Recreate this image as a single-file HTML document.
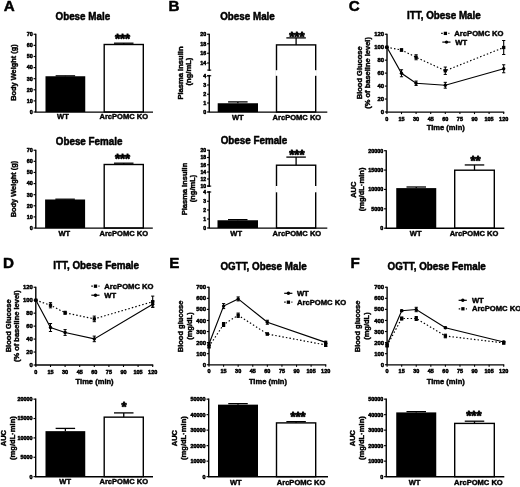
<!DOCTYPE html>
<html><head><meta charset="utf-8"><title>Figure</title>
<style>
html,body{margin:0;padding:0;background:#fff;}
body{width:520px;height:487px;overflow:hidden;}
svg{display:block;filter:blur(0.3px);font-family:"Liberation Sans",Arial,sans-serif;font-weight:bold;fill:#000;}
text{stroke:#000;stroke-width:0.42px;stroke-linejoin:round;}
</style></head><body>
<svg width="520" height="487" viewBox="0 0 520 487">
<rect x="0" y="0" width="520" height="487" fill="#fff"/>
<g transform="translate(0 0)">
<text x="3.7" y="11.1" font-size="15.2" text-anchor="start" style="stroke-width:0.5px">A</text>
<text x="168.6" y="10.9" font-size="15.2" text-anchor="start" style="stroke-width:0.5px">B</text>
<text x="348.7" y="11.0" font-size="15.2" text-anchor="start" style="stroke-width:0.5px">C</text>
<text x="3.1" y="268.2" font-size="15.2" text-anchor="start" style="stroke-width:0.5px">D</text>
<text x="169.3" y="268.3" font-size="15.2" text-anchor="start" style="stroke-width:0.5px">E</text>
<text x="350.6" y="268.3" font-size="15.2" text-anchor="start" style="stroke-width:0.5px">F</text>
<text transform="translate(82.8 19.6) scale(0.937 1)" font-size="10.5" text-anchor="middle" style="stroke-width:0.5px">Obese Male</text>
<line x1="65.375" y1="75.85" x2="65.375" y2="76.25" stroke="#000" stroke-width="1.3"/>
<line x1="55.625" y1="75.85" x2="75.125" y2="75.85" stroke="#000" stroke-width="1.3"/>
<rect x="45.5" y="76.25" width="39.75" height="35.75" fill="#000"/>
<line x1="123.75" y1="43.2" x2="123.75" y2="45.0" stroke="#000" stroke-width="1.3"/>
<line x1="114.0" y1="43.2" x2="133.5" y2="43.2" stroke="#000" stroke-width="1.3"/>
<rect x="104.2" y="44.5" width="39.1" height="67.5" fill="#fff" stroke="#000" stroke-width="1.4"/>
<text x="122.5" y="43.45" font-size="13" text-anchor="middle" style="stroke-width:0.85px">***</text>
<line x1="35.199999999999996" y1="112.1" x2="153" y2="112.1" stroke="#000" stroke-width="1.4"/>
<line x1="35.8" y1="33.7" x2="35.8" y2="112" stroke="#000" stroke-width="1.4"/>
<line x1="33.599999999999994" y1="112.0" x2="35.8" y2="112.0" stroke="#000" stroke-width="1.15"/>
<text x="32.699999999999996" y="113.89" font-size="5.4" text-anchor="end" style="stroke-width:0.5px">0</text>
<line x1="33.599999999999994" y1="100.89285714285714" x2="35.8" y2="100.89285714285714" stroke="#000" stroke-width="1.15"/>
<text x="32.699999999999996" y="102.78285714285714" font-size="5.4" text-anchor="end" style="stroke-width:0.5px">10</text>
<line x1="33.599999999999994" y1="89.78571428571428" x2="35.8" y2="89.78571428571428" stroke="#000" stroke-width="1.15"/>
<text x="32.699999999999996" y="91.67571428571428" font-size="5.4" text-anchor="end" style="stroke-width:0.5px">20</text>
<line x1="33.599999999999994" y1="78.67857142857143" x2="35.8" y2="78.67857142857143" stroke="#000" stroke-width="1.15"/>
<text x="32.699999999999996" y="80.56857142857143" font-size="5.4" text-anchor="end" style="stroke-width:0.5px">30</text>
<line x1="33.599999999999994" y1="67.57142857142857" x2="35.8" y2="67.57142857142857" stroke="#000" stroke-width="1.15"/>
<text x="32.699999999999996" y="69.46142857142857" font-size="5.4" text-anchor="end" style="stroke-width:0.5px">40</text>
<line x1="33.599999999999994" y1="56.464285714285715" x2="35.8" y2="56.464285714285715" stroke="#000" stroke-width="1.15"/>
<text x="32.699999999999996" y="58.354285714285716" font-size="5.4" text-anchor="end" style="stroke-width:0.5px">50</text>
<line x1="33.599999999999994" y1="45.35714285714286" x2="35.8" y2="45.35714285714286" stroke="#000" stroke-width="1.15"/>
<text x="32.699999999999996" y="47.24714285714286" font-size="5.4" text-anchor="end" style="stroke-width:0.5px">60</text>
<line x1="33.599999999999994" y1="34.25" x2="35.8" y2="34.25" stroke="#000" stroke-width="1.15"/>
<text x="32.699999999999996" y="36.14" font-size="5.4" text-anchor="end" style="stroke-width:0.5px">70</text>
<text x="62.9" y="119.3" font-size="7.55" text-anchor="middle">WT</text>
<text x="123.8" y="119.3" font-size="7.55" text-anchor="middle">ArcPOMC KO</text>
<text x="16.1" y="72.6" font-size="7.4" text-anchor="middle" transform="rotate(-90 16.1 72.6)">Body Weight (g)</text>
<text transform="translate(89.1 144.8) scale(0.937 1)" font-size="10.5" text-anchor="middle" style="stroke-width:0.5px">Obese Female</text>
<line x1="65.1" y1="199.2" x2="65.1" y2="199.5" stroke="#000" stroke-width="1.3"/>
<line x1="55.349999999999994" y1="199.2" x2="74.85" y2="199.2" stroke="#000" stroke-width="1.3"/>
<rect x="45.1" y="199.5" width="39.99999999999999" height="28.5" fill="#000"/>
<line x1="123.75" y1="163.2" x2="123.75" y2="165.0" stroke="#000" stroke-width="1.3"/>
<line x1="114.0" y1="163.2" x2="133.5" y2="163.2" stroke="#000" stroke-width="1.3"/>
<rect x="104.2" y="164.5" width="39.1" height="63.5" fill="#fff" stroke="#000" stroke-width="1.4"/>
<text x="122.5" y="163.2" font-size="13" text-anchor="middle" style="stroke-width:0.85px">***</text>
<line x1="35.199999999999996" y1="228.1" x2="152.8" y2="228.1" stroke="#000" stroke-width="1.4"/>
<line x1="35.8" y1="149.7" x2="35.8" y2="228" stroke="#000" stroke-width="1.4"/>
<line x1="33.599999999999994" y1="228.0" x2="35.8" y2="228.0" stroke="#000" stroke-width="1.15"/>
<text x="32.699999999999996" y="229.89" font-size="5.4" text-anchor="end" style="stroke-width:0.5px">0</text>
<line x1="33.599999999999994" y1="216.89285714285714" x2="35.8" y2="216.89285714285714" stroke="#000" stroke-width="1.15"/>
<text x="32.699999999999996" y="218.78285714285713" font-size="5.4" text-anchor="end" style="stroke-width:0.5px">10</text>
<line x1="33.599999999999994" y1="205.78571428571428" x2="35.8" y2="205.78571428571428" stroke="#000" stroke-width="1.15"/>
<text x="32.699999999999996" y="207.67571428571426" font-size="5.4" text-anchor="end" style="stroke-width:0.5px">20</text>
<line x1="33.599999999999994" y1="194.67857142857144" x2="35.8" y2="194.67857142857144" stroke="#000" stroke-width="1.15"/>
<text x="32.699999999999996" y="196.56857142857143" font-size="5.4" text-anchor="end" style="stroke-width:0.5px">30</text>
<line x1="33.599999999999994" y1="183.57142857142856" x2="35.8" y2="183.57142857142856" stroke="#000" stroke-width="1.15"/>
<text x="32.699999999999996" y="185.46142857142854" font-size="5.4" text-anchor="end" style="stroke-width:0.5px">40</text>
<line x1="33.599999999999994" y1="172.46428571428572" x2="35.8" y2="172.46428571428572" stroke="#000" stroke-width="1.15"/>
<text x="32.699999999999996" y="174.3542857142857" font-size="5.4" text-anchor="end" style="stroke-width:0.5px">50</text>
<line x1="33.599999999999994" y1="161.35714285714286" x2="35.8" y2="161.35714285714286" stroke="#000" stroke-width="1.15"/>
<text x="32.699999999999996" y="163.24714285714285" font-size="5.4" text-anchor="end" style="stroke-width:0.5px">60</text>
<line x1="33.599999999999994" y1="150.25" x2="35.8" y2="150.25" stroke="#000" stroke-width="1.15"/>
<text x="32.699999999999996" y="152.14" font-size="5.4" text-anchor="end" style="stroke-width:0.5px">70</text>
<text x="64.3" y="235.6" font-size="7.55" text-anchor="middle">WT</text>
<text x="123.8" y="235.6" font-size="7.55" text-anchor="middle">ArcPOMC KO</text>
<text x="16.1" y="189" font-size="7.4" text-anchor="middle" transform="rotate(-90 16.1 189)">Body Weight (g)</text>
<text transform="translate(247.5 19.6) scale(0.937 1)" font-size="10.5" text-anchor="middle" style="stroke-width:0.5px">Obese Male</text>
<line x1="237.85" y1="101.9" x2="237.85" y2="103.25" stroke="#000" stroke-width="1.3"/>
<line x1="228.1" y1="101.9" x2="247.6" y2="101.9" stroke="#000" stroke-width="1.3"/>
<rect x="217.7" y="103.25" width="40.30000000000001" height="8.75" fill="#000"/>
<line x1="296.1" y1="37.9" x2="296.1" y2="45.4" stroke="#000" stroke-width="1.3"/>
<line x1="286.35" y1="37.9" x2="305.85" y2="37.9" stroke="#000" stroke-width="1.3"/>
<rect x="276.5" y="44.9" width="39.19999999999997" height="67.1" fill="#fff" stroke="#000" stroke-width="1.4"/>
<rect x="275.3" y="70.2" width="41.599999999999966" height="5.599999999999994" fill="#fff"/>
<text x="296.9" y="40.550000000000004" font-size="13" text-anchor="middle" style="stroke-width:0.85px">***</text>
<line x1="208.65" y1="112.1" x2="327.3" y2="112.1" stroke="#000" stroke-width="1.4"/>
<line x1="209.25" y1="33.7" x2="209.25" y2="112" stroke="#000" stroke-width="1.4"/>
<line x1="207.05" y1="112" x2="209.25" y2="112" stroke="#000" stroke-width="1.15"/>
<text x="206.15" y="113.89" font-size="5.4" text-anchor="end" style="stroke-width:0.5px">0</text>
<line x1="207.05" y1="103" x2="209.25" y2="103" stroke="#000" stroke-width="1.15"/>
<text x="206.15" y="104.89" font-size="5.4" text-anchor="end" style="stroke-width:0.5px">1</text>
<line x1="207.05" y1="94.25" x2="209.25" y2="94.25" stroke="#000" stroke-width="1.15"/>
<text x="206.15" y="96.14" font-size="5.4" text-anchor="end" style="stroke-width:0.5px">2</text>
<line x1="207.05" y1="85" x2="209.25" y2="85" stroke="#000" stroke-width="1.15"/>
<text x="206.15" y="86.89" font-size="5.4" text-anchor="end" style="stroke-width:0.5px">3</text>
<line x1="207.05" y1="75.75" x2="209.25" y2="75.75" stroke="#000" stroke-width="1.15"/>
<text x="206.15" y="77.64" font-size="5.4" text-anchor="end" style="stroke-width:0.5px">4</text>
<line x1="207.05" y1="63" x2="209.25" y2="63" stroke="#000" stroke-width="1.15"/>
<text x="206.15" y="64.89" font-size="5.4" text-anchor="end" style="stroke-width:0.5px">14</text>
<line x1="207.05" y1="53.25" x2="209.25" y2="53.25" stroke="#000" stroke-width="1.15"/>
<text x="206.15" y="55.14" font-size="5.4" text-anchor="end" style="stroke-width:0.5px">16</text>
<line x1="207.05" y1="43.75" x2="209.25" y2="43.75" stroke="#000" stroke-width="1.15"/>
<text x="206.15" y="45.64" font-size="5.4" text-anchor="end" style="stroke-width:0.5px">18</text>
<line x1="207.05" y1="34.25" x2="209.25" y2="34.25" stroke="#000" stroke-width="1.15"/>
<text x="206.15" y="36.14" font-size="5.4" text-anchor="end" style="stroke-width:0.5px">20</text>
<text x="237.8" y="119.6" font-size="7.55" text-anchor="middle">WT</text>
<text x="296.9" y="119.6" font-size="7.55" text-anchor="middle">ArcPOMC KO</text>
<rect x="207" y="70.9" width="5" height="4.0" fill="#fff"/>
<line x1="207.3" y1="70.1" x2="211.2" y2="70.1" stroke="#000" stroke-width="1.1"/>
<line x1="207.3" y1="75.75" x2="211.2" y2="75.75" stroke="#000" stroke-width="1.1"/>
<text x="182.6" y="73" font-size="7.6" text-anchor="middle" transform="rotate(-90 182.6 73)">Plasma Insulin</text>
<text x="190.9" y="71.6" font-size="7.6" text-anchor="middle" transform="rotate(-90 190.9 71.6)">(ng/mL)</text>
<text transform="translate(254.0 144.2) scale(0.937 1)" font-size="10.5" text-anchor="middle" style="stroke-width:0.5px">Obese Female</text>
<line x1="237.75" y1="219.65" x2="237.75" y2="220.25" stroke="#000" stroke-width="1.3"/>
<line x1="228.0" y1="219.65" x2="247.5" y2="219.65" stroke="#000" stroke-width="1.3"/>
<rect x="217.5" y="220.25" width="40.5" height="7.75" fill="#000"/>
<line x1="296.1" y1="157.1" x2="296.1" y2="165.7" stroke="#000" stroke-width="1.3"/>
<line x1="286.35" y1="157.1" x2="305.85" y2="157.1" stroke="#000" stroke-width="1.3"/>
<rect x="276.5" y="165.2" width="39.19999999999997" height="62.80000000000001" fill="#fff" stroke="#000" stroke-width="1.4"/>
<rect x="275.3" y="186.0" width="41.599999999999966" height="6.300000000000011" fill="#fff"/>
<text x="296.9" y="158.9" font-size="13" text-anchor="middle" style="stroke-width:0.85px">***</text>
<line x1="208.65" y1="228.1" x2="327.3" y2="228.1" stroke="#000" stroke-width="1.4"/>
<line x1="209.25" y1="149.7" x2="209.25" y2="228" stroke="#000" stroke-width="1.4"/>
<line x1="207.05" y1="228" x2="209.25" y2="228" stroke="#000" stroke-width="1.15"/>
<text x="206.15" y="229.785" font-size="5.1" text-anchor="end" style="stroke-width:0.5px">0</text>
<line x1="207.05" y1="219" x2="209.25" y2="219" stroke="#000" stroke-width="1.15"/>
<text x="206.15" y="220.785" font-size="5.1" text-anchor="end" style="stroke-width:0.5px">1</text>
<line x1="207.05" y1="210" x2="209.25" y2="210" stroke="#000" stroke-width="1.15"/>
<text x="206.15" y="211.785" font-size="5.1" text-anchor="end" style="stroke-width:0.5px">2</text>
<line x1="207.05" y1="201.25" x2="209.25" y2="201.25" stroke="#000" stroke-width="1.15"/>
<text x="206.15" y="203.035" font-size="5.1" text-anchor="end" style="stroke-width:0.5px">3</text>
<line x1="207.05" y1="192" x2="209.25" y2="192" stroke="#000" stroke-width="1.15"/>
<text x="206.15" y="193.785" font-size="5.1" text-anchor="end" style="stroke-width:0.5px">4</text>
<line x1="207.05" y1="186" x2="209.25" y2="186" stroke="#000" stroke-width="1.15"/>
<text x="206.15" y="187.785" font-size="5.1" text-anchor="end" style="stroke-width:0.5px">10</text>
<line x1="207.05" y1="179" x2="209.25" y2="179" stroke="#000" stroke-width="1.15"/>
<text x="206.15" y="180.785" font-size="5.1" text-anchor="end" style="stroke-width:0.5px">12</text>
<line x1="207.05" y1="172" x2="209.25" y2="172" stroke="#000" stroke-width="1.15"/>
<text x="206.15" y="173.785" font-size="5.1" text-anchor="end" style="stroke-width:0.5px">14</text>
<line x1="207.05" y1="164.75" x2="209.25" y2="164.75" stroke="#000" stroke-width="1.15"/>
<text x="206.15" y="166.535" font-size="5.1" text-anchor="end" style="stroke-width:0.5px">16</text>
<line x1="207.05" y1="157.5" x2="209.25" y2="157.5" stroke="#000" stroke-width="1.15"/>
<text x="206.15" y="159.285" font-size="5.1" text-anchor="end" style="stroke-width:0.5px">18</text>
<line x1="207.05" y1="150.25" x2="209.25" y2="150.25" stroke="#000" stroke-width="1.15"/>
<text x="206.15" y="152.035" font-size="5.1" text-anchor="end" style="stroke-width:0.5px">20</text>
<text x="236.2" y="235.8" font-size="7.55" text-anchor="middle">WT</text>
<text x="296.9" y="235.8" font-size="7.55" text-anchor="middle">ArcPOMC KO</text>
<rect x="207" y="187.0" width="5" height="4.1" fill="#fff"/>
<line x1="207.3" y1="186.1" x2="211.2" y2="186.1" stroke="#000" stroke-width="1.1"/>
<line x1="207.3" y1="192" x2="211.2" y2="192" stroke="#000" stroke-width="1.1"/>
<text x="187.2" y="189" font-size="7.5" text-anchor="middle" transform="rotate(-90 187.2 189)">Plasma Insulin</text>
<text x="194.9" y="188.5" font-size="7.5" text-anchor="middle" transform="rotate(-90 194.9 188.5)">(ng/mL)</text>
<line x1="386.4" y1="112.1" x2="504.25" y2="112.1" stroke="#000" stroke-width="1.3"/>
<line x1="387.0" y1="33.7" x2="387.0" y2="112" stroke="#000" stroke-width="1.4"/>
<line x1="384.8" y1="112.0" x2="387.0" y2="112.0" stroke="#000" stroke-width="1.15"/>
<text x="383.90000000000003" y="114.0475" font-size="5.85" text-anchor="end" style="stroke-width:0.5px">0</text>
<line x1="384.8" y1="99.04166666666667" x2="387.0" y2="99.04166666666667" stroke="#000" stroke-width="1.15"/>
<text x="383.90000000000003" y="101.08916666666667" font-size="5.85" text-anchor="end" style="stroke-width:0.5px">20</text>
<line x1="384.8" y1="86.08333333333333" x2="387.0" y2="86.08333333333333" stroke="#000" stroke-width="1.15"/>
<text x="383.90000000000003" y="88.13083333333333" font-size="5.85" text-anchor="end" style="stroke-width:0.5px">40</text>
<line x1="384.8" y1="73.125" x2="387.0" y2="73.125" stroke="#000" stroke-width="1.15"/>
<text x="383.90000000000003" y="75.1725" font-size="5.85" text-anchor="end" style="stroke-width:0.5px">60</text>
<line x1="384.8" y1="60.166666666666664" x2="387.0" y2="60.166666666666664" stroke="#000" stroke-width="1.15"/>
<text x="383.90000000000003" y="62.214166666666664" font-size="5.85" text-anchor="end" style="stroke-width:0.5px">80</text>
<line x1="384.8" y1="47.20833333333333" x2="387.0" y2="47.20833333333333" stroke="#000" stroke-width="1.15"/>
<text x="383.90000000000003" y="49.25583333333333" font-size="5.85" text-anchor="end" style="stroke-width:0.5px">100</text>
<line x1="384.8" y1="34.25" x2="387.0" y2="34.25" stroke="#000" stroke-width="1.15"/>
<text x="383.90000000000003" y="36.2975" font-size="5.85" text-anchor="end" style="stroke-width:0.5px">120</text>
<line x1="386.9" y1="112" x2="386.9" y2="114.1" stroke="#000" stroke-width="1.1"/>
<text x="386.9" y="120.7" font-size="5.5" text-anchor="middle" style="stroke-width:0.5px">0</text>
<line x1="401.5" y1="112" x2="401.5" y2="114.1" stroke="#000" stroke-width="1.1"/>
<text x="401.5" y="120.7" font-size="5.5" text-anchor="middle" style="stroke-width:0.5px">15</text>
<line x1="416.09999999999997" y1="112" x2="416.09999999999997" y2="114.1" stroke="#000" stroke-width="1.1"/>
<text x="416.09999999999997" y="120.7" font-size="5.5" text-anchor="middle" style="stroke-width:0.5px">30</text>
<line x1="430.7" y1="112" x2="430.7" y2="114.1" stroke="#000" stroke-width="1.1"/>
<text x="430.7" y="120.7" font-size="5.5" text-anchor="middle" style="stroke-width:0.5px">45</text>
<line x1="445.29999999999995" y1="112" x2="445.29999999999995" y2="114.1" stroke="#000" stroke-width="1.1"/>
<text x="445.29999999999995" y="120.7" font-size="5.5" text-anchor="middle" style="stroke-width:0.5px">60</text>
<line x1="459.9" y1="112" x2="459.9" y2="114.1" stroke="#000" stroke-width="1.1"/>
<text x="459.9" y="120.7" font-size="5.5" text-anchor="middle" style="stroke-width:0.5px">75</text>
<line x1="474.5" y1="112" x2="474.5" y2="114.1" stroke="#000" stroke-width="1.1"/>
<text x="474.5" y="120.7" font-size="5.5" text-anchor="middle" style="stroke-width:0.5px">90</text>
<line x1="489.1" y1="112" x2="489.1" y2="114.1" stroke="#000" stroke-width="1.1"/>
<text x="489.1" y="120.7" font-size="5.5" text-anchor="middle" style="stroke-width:0.5px">105</text>
<line x1="503.7" y1="112" x2="503.7" y2="114.1" stroke="#000" stroke-width="1.1"/>
<text x="503.7" y="120.7" font-size="5.5" text-anchor="middle" style="stroke-width:0.5px">120</text>
<text x="445.8" y="130.2" font-size="7.55" text-anchor="middle">Time (min)</text>
<text transform="translate(443.9 19.0) scale(0.937 1)" font-size="10.5" text-anchor="middle" style="stroke-width:0.5px">ITT, Obese Male</text>
<polyline points="386.9,47.25 401.5,50 416.09999999999997,57.25 445.29999999999995,70.75 503.7,47.5" fill="none" stroke="#000" stroke-width="1.15" stroke-dasharray="1.5 2.1"/>
<rect x="385.25" y="45.6" width="3.3" height="3.3" fill="#000"/>
<line x1="401.5" y1="48.8" x2="401.5" y2="51.2" stroke="#000" stroke-width="1.1"/>
<line x1="399.9" y1="48.8" x2="403.1" y2="48.8" stroke="#000" stroke-width="1.0"/>
<line x1="399.9" y1="51.2" x2="403.1" y2="51.2" stroke="#000" stroke-width="1.0"/>
<rect x="399.85" y="48.35" width="3.3" height="3.3" fill="#000"/>
<line x1="416.09999999999997" y1="54.75" x2="416.09999999999997" y2="59.75" stroke="#000" stroke-width="1.1"/>
<line x1="414.49999999999994" y1="54.75" x2="417.7" y2="54.75" stroke="#000" stroke-width="1.0"/>
<line x1="414.49999999999994" y1="59.75" x2="417.7" y2="59.75" stroke="#000" stroke-width="1.0"/>
<rect x="414.45" y="55.6" width="3.3" height="3.3" fill="#000"/>
<line x1="445.29999999999995" y1="67.05" x2="445.29999999999995" y2="74.45" stroke="#000" stroke-width="1.1"/>
<line x1="443.69999999999993" y1="67.05" x2="446.9" y2="67.05" stroke="#000" stroke-width="1.0"/>
<line x1="443.69999999999993" y1="74.45" x2="446.9" y2="74.45" stroke="#000" stroke-width="1.0"/>
<rect x="443.65" y="69.1" width="3.3" height="3.3" fill="#000"/>
<line x1="503.7" y1="40.5" x2="503.7" y2="54.5" stroke="#000" stroke-width="1.1"/>
<line x1="502.09999999999997" y1="40.5" x2="505.3" y2="40.5" stroke="#000" stroke-width="1.0"/>
<line x1="502.09999999999997" y1="54.5" x2="505.3" y2="54.5" stroke="#000" stroke-width="1.0"/>
<rect x="502.05" y="45.85" width="3.3" height="3.3" fill="#000"/>
<polyline points="386.9,47.25 401.5,73.25 416.09999999999997,83.25 445.29999999999995,85.25 503.7,68.75" fill="none" stroke="#000" stroke-width="1.15"/>
<circle cx="386.9" cy="47.25" r="1.7" fill="#000"/>
<line x1="401.5" y1="69.75" x2="401.5" y2="76.75" stroke="#000" stroke-width="1.1"/>
<line x1="399.9" y1="69.75" x2="403.1" y2="69.75" stroke="#000" stroke-width="1.0"/>
<line x1="399.9" y1="76.75" x2="403.1" y2="76.75" stroke="#000" stroke-width="1.0"/>
<circle cx="401.5" cy="73.25" r="1.7" fill="#000"/>
<line x1="416.09999999999997" y1="81.05" x2="416.09999999999997" y2="85.45" stroke="#000" stroke-width="1.1"/>
<line x1="414.49999999999994" y1="81.05" x2="417.7" y2="81.05" stroke="#000" stroke-width="1.0"/>
<line x1="414.49999999999994" y1="85.45" x2="417.7" y2="85.45" stroke="#000" stroke-width="1.0"/>
<circle cx="416.09999999999997" cy="83.25" r="1.7" fill="#000"/>
<line x1="445.29999999999995" y1="82.35" x2="445.29999999999995" y2="88.15" stroke="#000" stroke-width="1.1"/>
<line x1="443.69999999999993" y1="82.35" x2="446.9" y2="82.35" stroke="#000" stroke-width="1.0"/>
<line x1="443.69999999999993" y1="88.15" x2="446.9" y2="88.15" stroke="#000" stroke-width="1.0"/>
<circle cx="445.29999999999995" cy="85.25" r="1.7" fill="#000"/>
<line x1="503.7" y1="64.75" x2="503.7" y2="72.75" stroke="#000" stroke-width="1.1"/>
<line x1="502.09999999999997" y1="64.75" x2="505.3" y2="64.75" stroke="#000" stroke-width="1.0"/>
<line x1="502.09999999999997" y1="72.75" x2="505.3" y2="72.75" stroke="#000" stroke-width="1.0"/>
<circle cx="503.7" cy="68.75" r="1.7" fill="#000"/>
<line x1="441.2" y1="33.4" x2="449.4" y2="33.4" stroke="#000" stroke-width="1.2" stroke-dasharray="1.5 2.1"/>
<rect x="443.75" y="31.75" width="3.3" height="3.3" fill="#000"/>
<text x="454.3" y="35.9" font-size="7.6499999999999995" text-anchor="start">ArcPOMC KO</text>
<line x1="442.3" y1="42.1" x2="450.5" y2="42.1" stroke="#000" stroke-width="1.2"/>
<circle cx="446.5" cy="42.1" r="1.7" fill="#000"/>
<text x="455.3" y="44.6" font-size="7.6499999999999995" text-anchor="start">WT</text>
<text x="361.9" y="72.8" font-size="7.5" text-anchor="middle" transform="rotate(-90 361.9 72.8)">Blood Glucose</text>
<text x="369.8" y="72.9" font-size="7.5" text-anchor="middle" transform="rotate(-90 369.8 72.9)">(% of baseline level)</text>
<g transform="translate(0 0.7)">
<line x1="416.25" y1="186.3" x2="416.25" y2="187.4" stroke="#000" stroke-width="1.3"/>
<line x1="406.5" y1="186.3" x2="426.0" y2="186.3" stroke="#000" stroke-width="1.3"/>
<rect x="396.25" y="187.4" width="40.0" height="40.099999999999994" fill="#000"/>
<line x1="474.5" y1="164.25" x2="474.5" y2="170.0" stroke="#000" stroke-width="1.3"/>
<line x1="464.75" y1="164.25" x2="484.25" y2="164.25" stroke="#000" stroke-width="1.3"/>
<rect x="454.7" y="169.5" width="39.6" height="58.0" fill="#fff" stroke="#000" stroke-width="1.4"/>
<text x="475.5" y="164.7" font-size="13" text-anchor="middle" style="stroke-width:0.85px">**</text>
<line x1="385.65" y1="227.6" x2="504.3" y2="227.6" stroke="#000" stroke-width="1.4"/>
<line x1="386.25" y1="149.45" x2="386.25" y2="227.5" stroke="#000" stroke-width="1.4"/>
<line x1="384.05" y1="227.5" x2="386.25" y2="227.5" stroke="#000" stroke-width="1.15"/>
<text x="383.15000000000003" y="229.39" font-size="5.4" text-anchor="end" style="stroke-width:0.5px">0</text>
<line x1="384.05" y1="208.125" x2="386.25" y2="208.125" stroke="#000" stroke-width="1.15"/>
<text x="383.15000000000003" y="210.015" font-size="5.4" text-anchor="end" style="stroke-width:0.5px">5000</text>
<line x1="384.05" y1="188.75" x2="386.25" y2="188.75" stroke="#000" stroke-width="1.15"/>
<text x="383.15000000000003" y="190.64" font-size="5.4" text-anchor="end" style="stroke-width:0.5px">10000</text>
<line x1="384.05" y1="169.375" x2="386.25" y2="169.375" stroke="#000" stroke-width="1.15"/>
<text x="383.15000000000003" y="171.265" font-size="5.4" text-anchor="end" style="stroke-width:0.5px">15000</text>
<line x1="384.05" y1="150.0" x2="386.25" y2="150.0" stroke="#000" stroke-width="1.15"/>
<text x="383.15000000000003" y="151.89" font-size="5.4" text-anchor="end" style="stroke-width:0.5px">20000</text>
<text x="415.7" y="235.3" font-size="7.55" text-anchor="middle">WT</text>
<text x="474.0" y="235.3" font-size="7.55" text-anchor="middle">ArcPOMC KO</text>
<text x="355.6" y="189" font-size="7.5" text-anchor="middle" transform="rotate(-90 355.6 189)">AUC</text>
<text x="364.2" y="188.7" font-size="7.6" text-anchor="middle" transform="rotate(-90 364.2 188.7)">(mg/dL·min)</text>
</g>
<line x1="35.199999999999996" y1="365.0" x2="153.25" y2="365.0" stroke="#000" stroke-width="1.3"/>
<line x1="35.8" y1="286.7" x2="35.8" y2="364.9" stroke="#000" stroke-width="1.4"/>
<line x1="33.599999999999994" y1="365.0" x2="35.8" y2="365.0" stroke="#000" stroke-width="1.15"/>
<text x="32.699999999999996" y="367.0475" font-size="5.85" text-anchor="end" style="stroke-width:0.5px">0</text>
<line x1="33.599999999999994" y1="352.0416666666667" x2="35.8" y2="352.0416666666667" stroke="#000" stroke-width="1.15"/>
<text x="32.699999999999996" y="354.0891666666667" font-size="5.85" text-anchor="end" style="stroke-width:0.5px">20</text>
<line x1="33.599999999999994" y1="339.0833333333333" x2="35.8" y2="339.0833333333333" stroke="#000" stroke-width="1.15"/>
<text x="32.699999999999996" y="341.1308333333333" font-size="5.85" text-anchor="end" style="stroke-width:0.5px">40</text>
<line x1="33.599999999999994" y1="326.125" x2="35.8" y2="326.125" stroke="#000" stroke-width="1.15"/>
<text x="32.699999999999996" y="328.1725" font-size="5.85" text-anchor="end" style="stroke-width:0.5px">60</text>
<line x1="33.599999999999994" y1="313.1666666666667" x2="35.8" y2="313.1666666666667" stroke="#000" stroke-width="1.15"/>
<text x="32.699999999999996" y="315.2141666666667" font-size="5.85" text-anchor="end" style="stroke-width:0.5px">80</text>
<line x1="33.599999999999994" y1="300.2083333333333" x2="35.8" y2="300.2083333333333" stroke="#000" stroke-width="1.15"/>
<text x="32.699999999999996" y="302.2558333333333" font-size="5.85" text-anchor="end" style="stroke-width:0.5px">100</text>
<line x1="33.599999999999994" y1="287.25" x2="35.8" y2="287.25" stroke="#000" stroke-width="1.15"/>
<text x="32.699999999999996" y="289.2975" font-size="5.85" text-anchor="end" style="stroke-width:0.5px">120</text>
<line x1="35.9" y1="364.9" x2="35.9" y2="367.0" stroke="#000" stroke-width="1.1"/>
<text x="35.9" y="373.59999999999997" font-size="5.5" text-anchor="middle" style="stroke-width:0.5px">0</text>
<line x1="50.5" y1="364.9" x2="50.5" y2="367.0" stroke="#000" stroke-width="1.1"/>
<text x="50.5" y="373.59999999999997" font-size="5.5" text-anchor="middle" style="stroke-width:0.5px">15</text>
<line x1="65.1" y1="364.9" x2="65.1" y2="367.0" stroke="#000" stroke-width="1.1"/>
<text x="65.1" y="373.59999999999997" font-size="5.5" text-anchor="middle" style="stroke-width:0.5px">30</text>
<line x1="79.69999999999999" y1="364.9" x2="79.69999999999999" y2="367.0" stroke="#000" stroke-width="1.1"/>
<text x="79.69999999999999" y="373.59999999999997" font-size="5.5" text-anchor="middle" style="stroke-width:0.5px">45</text>
<line x1="94.29999999999998" y1="364.9" x2="94.29999999999998" y2="367.0" stroke="#000" stroke-width="1.1"/>
<text x="94.29999999999998" y="373.59999999999997" font-size="5.5" text-anchor="middle" style="stroke-width:0.5px">60</text>
<line x1="108.89999999999998" y1="364.9" x2="108.89999999999998" y2="367.0" stroke="#000" stroke-width="1.1"/>
<text x="108.89999999999998" y="373.59999999999997" font-size="5.5" text-anchor="middle" style="stroke-width:0.5px">75</text>
<line x1="123.5" y1="364.9" x2="123.5" y2="367.0" stroke="#000" stroke-width="1.1"/>
<text x="123.5" y="373.59999999999997" font-size="5.5" text-anchor="middle" style="stroke-width:0.5px">90</text>
<line x1="138.1" y1="364.9" x2="138.1" y2="367.0" stroke="#000" stroke-width="1.1"/>
<text x="138.1" y="373.59999999999997" font-size="5.5" text-anchor="middle" style="stroke-width:0.5px">105</text>
<line x1="152.7" y1="364.9" x2="152.7" y2="367.0" stroke="#000" stroke-width="1.1"/>
<text x="152.7" y="373.59999999999997" font-size="5.5" text-anchor="middle" style="stroke-width:0.5px">120</text>
<text x="94.6" y="384.0" font-size="7.55" text-anchor="middle">Time (min)</text>
<text transform="translate(96.2 269.3) scale(0.937 1)" font-size="10.5" text-anchor="middle" style="stroke-width:0.5px">ITT, Obese Female</text>
<polyline points="35.9,300.25 50.5,305.25 65.1,312.75 94.29999999999998,318.9 152.7,301.7" fill="none" stroke="#000" stroke-width="1.15" stroke-dasharray="1.5 2.1"/>
<rect x="34.25" y="298.6" width="3.3" height="3.3" fill="#000"/>
<line x1="50.5" y1="302.65" x2="50.5" y2="307.85" stroke="#000" stroke-width="1.1"/>
<line x1="48.9" y1="302.65" x2="52.1" y2="302.65" stroke="#000" stroke-width="1.0"/>
<line x1="48.9" y1="307.85" x2="52.1" y2="307.85" stroke="#000" stroke-width="1.0"/>
<rect x="48.85" y="303.6" width="3.3" height="3.3" fill="#000"/>
<line x1="65.1" y1="311.25" x2="65.1" y2="314.25" stroke="#000" stroke-width="1.1"/>
<line x1="63.49999999999999" y1="311.25" x2="66.69999999999999" y2="311.25" stroke="#000" stroke-width="1.0"/>
<line x1="63.49999999999999" y1="314.25" x2="66.69999999999999" y2="314.25" stroke="#000" stroke-width="1.0"/>
<rect x="63.449999999999996" y="311.1" width="3.3" height="3.3" fill="#000"/>
<line x1="94.29999999999998" y1="316.09999999999997" x2="94.29999999999998" y2="321.7" stroke="#000" stroke-width="1.1"/>
<line x1="92.69999999999999" y1="316.09999999999997" x2="95.89999999999998" y2="316.09999999999997" stroke="#000" stroke-width="1.0"/>
<line x1="92.69999999999999" y1="321.7" x2="95.89999999999998" y2="321.7" stroke="#000" stroke-width="1.0"/>
<rect x="92.64999999999998" y="317.25" width="3.3" height="3.3" fill="#000"/>
<line x1="152.7" y1="296.09999999999997" x2="152.7" y2="307.3" stroke="#000" stroke-width="1.1"/>
<line x1="151.1" y1="296.09999999999997" x2="154.29999999999998" y2="296.09999999999997" stroke="#000" stroke-width="1.0"/>
<line x1="151.1" y1="307.3" x2="154.29999999999998" y2="307.3" stroke="#000" stroke-width="1.0"/>
<rect x="151.04999999999998" y="300.05" width="3.3" height="3.3" fill="#000"/>
<polyline points="35.9,300.25 50.5,327.5 65.1,332.5 94.29999999999998,338.9 152.7,304.2" fill="none" stroke="#000" stroke-width="1.15"/>
<circle cx="35.9" cy="300.25" r="1.7" fill="#000"/>
<line x1="50.5" y1="323.5" x2="50.5" y2="331.5" stroke="#000" stroke-width="1.1"/>
<line x1="48.9" y1="323.5" x2="52.1" y2="323.5" stroke="#000" stroke-width="1.0"/>
<line x1="48.9" y1="331.5" x2="52.1" y2="331.5" stroke="#000" stroke-width="1.0"/>
<circle cx="50.5" cy="327.5" r="1.7" fill="#000"/>
<line x1="65.1" y1="329.6" x2="65.1" y2="335.4" stroke="#000" stroke-width="1.1"/>
<line x1="63.49999999999999" y1="329.6" x2="66.69999999999999" y2="329.6" stroke="#000" stroke-width="1.0"/>
<line x1="63.49999999999999" y1="335.4" x2="66.69999999999999" y2="335.4" stroke="#000" stroke-width="1.0"/>
<circle cx="65.1" cy="332.5" r="1.7" fill="#000"/>
<line x1="94.29999999999998" y1="336.09999999999997" x2="94.29999999999998" y2="341.7" stroke="#000" stroke-width="1.1"/>
<line x1="92.69999999999999" y1="336.09999999999997" x2="95.89999999999998" y2="336.09999999999997" stroke="#000" stroke-width="1.0"/>
<line x1="92.69999999999999" y1="341.7" x2="95.89999999999998" y2="341.7" stroke="#000" stroke-width="1.0"/>
<circle cx="94.29999999999998" cy="338.9" r="1.7" fill="#000"/>
<line x1="152.7" y1="301.2" x2="152.7" y2="307.2" stroke="#000" stroke-width="1.1"/>
<line x1="151.1" y1="301.2" x2="154.29999999999998" y2="301.2" stroke="#000" stroke-width="1.0"/>
<line x1="151.1" y1="307.2" x2="154.29999999999998" y2="307.2" stroke="#000" stroke-width="1.0"/>
<circle cx="152.7" cy="304.2" r="1.7" fill="#000"/>
<line x1="91.3" y1="286.2" x2="99.5" y2="286.2" stroke="#000" stroke-width="1.2" stroke-dasharray="1.5 2.1"/>
<rect x="93.85" y="284.55" width="3.3" height="3.3" fill="#000"/>
<text x="104.3" y="288.7" font-size="7.6499999999999995" text-anchor="start">ArcPOMC KO</text>
<line x1="91.3" y1="295.2" x2="99.5" y2="295.2" stroke="#000" stroke-width="1.2"/>
<circle cx="95.5" cy="295.2" r="1.7" fill="#000"/>
<text x="104.3" y="297.7" font-size="7.6499999999999995" text-anchor="start">WT</text>
<text x="11.5" y="325.9" font-size="7.5" text-anchor="middle" transform="rotate(-90 11.5 325.9)">Blood Glucose</text>
<text x="19.3" y="326.2" font-size="7.5" text-anchor="middle" transform="rotate(-90 19.3 326.2)">(% of baseline level)</text>
<g transform="translate(0 0.4)">
<line x1="65.375" y1="428" x2="65.375" y2="430.75" stroke="#000" stroke-width="1.3"/>
<line x1="55.625" y1="428" x2="75.125" y2="428" stroke="#000" stroke-width="1.3"/>
<rect x="45.5" y="430.75" width="39.75" height="45.5" fill="#000"/>
<line x1="123.75" y1="412.5" x2="123.75" y2="417.25" stroke="#000" stroke-width="1.3"/>
<line x1="114.0" y1="412.5" x2="133.5" y2="412.5" stroke="#000" stroke-width="1.3"/>
<rect x="104.2" y="416.75" width="39.1" height="59.5" fill="#fff" stroke="#000" stroke-width="1.4"/>
<text x="124.0" y="410.8" font-size="13" text-anchor="middle" style="stroke-width:0.85px">*</text>
<line x1="35.1" y1="476.35" x2="153" y2="476.35" stroke="#000" stroke-width="1.4"/>
<line x1="35.7" y1="398.2" x2="35.7" y2="476.25" stroke="#000" stroke-width="1.4"/>
<line x1="33.5" y1="476.25" x2="35.7" y2="476.25" stroke="#000" stroke-width="1.15"/>
<text x="32.6" y="478.14" font-size="5.4" text-anchor="end" style="stroke-width:0.5px">0</text>
<line x1="33.5" y1="456.875" x2="35.7" y2="456.875" stroke="#000" stroke-width="1.15"/>
<text x="32.6" y="458.765" font-size="5.4" text-anchor="end" style="stroke-width:0.5px">5000</text>
<line x1="33.5" y1="437.5" x2="35.7" y2="437.5" stroke="#000" stroke-width="1.15"/>
<text x="32.6" y="439.39" font-size="5.4" text-anchor="end" style="stroke-width:0.5px">10000</text>
<line x1="33.5" y1="418.125" x2="35.7" y2="418.125" stroke="#000" stroke-width="1.15"/>
<text x="32.6" y="420.015" font-size="5.4" text-anchor="end" style="stroke-width:0.5px">15000</text>
<line x1="33.5" y1="398.75" x2="35.7" y2="398.75" stroke="#000" stroke-width="1.15"/>
<text x="32.6" y="400.64" font-size="5.4" text-anchor="end" style="stroke-width:0.5px">20000</text>
<text x="65.2" y="483.6" font-size="7.55" text-anchor="middle">WT</text>
<text x="123.8" y="483.6" font-size="7.55" text-anchor="middle">ArcPOMC KO</text>
<text x="6.0" y="437.7" font-size="7.5" text-anchor="middle" transform="rotate(-90 6.0 437.7)">AUC</text>
<text x="15" y="437.7" font-size="7.6" text-anchor="middle" transform="rotate(-90 15 437.7)">(mg/dL·min)</text>
</g>
<line x1="208.4" y1="364.85" x2="326.25" y2="364.85" stroke="#000" stroke-width="1.3"/>
<line x1="209.0" y1="286.7" x2="209.0" y2="364.75" stroke="#000" stroke-width="1.4"/>
<line x1="206.8" y1="364.75" x2="209.0" y2="364.75" stroke="#000" stroke-width="1.15"/>
<text x="205.9" y="366.7975" font-size="5.85" text-anchor="end" style="stroke-width:0.5px">0</text>
<line x1="206.8" y1="353.67857142857144" x2="209.0" y2="353.67857142857144" stroke="#000" stroke-width="1.15"/>
<text x="205.9" y="355.72607142857146" font-size="5.85" text-anchor="end" style="stroke-width:0.5px">100</text>
<line x1="206.8" y1="342.60714285714283" x2="209.0" y2="342.60714285714283" stroke="#000" stroke-width="1.15"/>
<text x="205.9" y="344.65464285714285" font-size="5.85" text-anchor="end" style="stroke-width:0.5px">200</text>
<line x1="206.8" y1="331.5357142857143" x2="209.0" y2="331.5357142857143" stroke="#000" stroke-width="1.15"/>
<text x="205.9" y="333.5832142857143" font-size="5.85" text-anchor="end" style="stroke-width:0.5px">300</text>
<line x1="206.8" y1="320.4642857142857" x2="209.0" y2="320.4642857142857" stroke="#000" stroke-width="1.15"/>
<text x="205.9" y="322.51178571428574" font-size="5.85" text-anchor="end" style="stroke-width:0.5px">400</text>
<line x1="206.8" y1="309.39285714285717" x2="209.0" y2="309.39285714285717" stroke="#000" stroke-width="1.15"/>
<text x="205.9" y="311.4403571428572" font-size="5.85" text-anchor="end" style="stroke-width:0.5px">500</text>
<line x1="206.8" y1="298.32142857142856" x2="209.0" y2="298.32142857142856" stroke="#000" stroke-width="1.15"/>
<text x="205.9" y="300.36892857142857" font-size="5.85" text-anchor="end" style="stroke-width:0.5px">600</text>
<line x1="206.8" y1="287.25" x2="209.0" y2="287.25" stroke="#000" stroke-width="1.15"/>
<text x="205.9" y="289.2975" font-size="5.85" text-anchor="end" style="stroke-width:0.5px">700</text>
<line x1="209.0" y1="364.75" x2="209.0" y2="366.85" stroke="#000" stroke-width="1.1"/>
<text x="209.0" y="373.45" font-size="5.5" text-anchor="middle" style="stroke-width:0.5px">0</text>
<line x1="223.5875" y1="364.75" x2="223.5875" y2="366.85" stroke="#000" stroke-width="1.1"/>
<text x="223.5875" y="373.45" font-size="5.5" text-anchor="middle" style="stroke-width:0.5px">15</text>
<line x1="238.175" y1="364.75" x2="238.175" y2="366.85" stroke="#000" stroke-width="1.1"/>
<text x="238.175" y="373.45" font-size="5.5" text-anchor="middle" style="stroke-width:0.5px">30</text>
<line x1="252.7625" y1="364.75" x2="252.7625" y2="366.85" stroke="#000" stroke-width="1.1"/>
<text x="252.7625" y="373.45" font-size="5.5" text-anchor="middle" style="stroke-width:0.5px">45</text>
<line x1="267.35" y1="364.75" x2="267.35" y2="366.85" stroke="#000" stroke-width="1.1"/>
<text x="267.35" y="373.45" font-size="5.5" text-anchor="middle" style="stroke-width:0.5px">60</text>
<line x1="281.9375" y1="364.75" x2="281.9375" y2="366.85" stroke="#000" stroke-width="1.1"/>
<text x="281.9375" y="373.45" font-size="5.5" text-anchor="middle" style="stroke-width:0.5px">75</text>
<line x1="296.525" y1="364.75" x2="296.525" y2="366.85" stroke="#000" stroke-width="1.1"/>
<text x="296.525" y="373.45" font-size="5.5" text-anchor="middle" style="stroke-width:0.5px">90</text>
<line x1="311.11249999999995" y1="364.75" x2="311.11249999999995" y2="366.85" stroke="#000" stroke-width="1.1"/>
<text x="311.11249999999995" y="373.45" font-size="5.5" text-anchor="middle" style="stroke-width:0.5px">105</text>
<line x1="325.7" y1="364.75" x2="325.7" y2="366.85" stroke="#000" stroke-width="1.1"/>
<text x="325.7" y="373.45" font-size="5.5" text-anchor="middle" style="stroke-width:0.5px">120</text>
<text x="267.9" y="384.0" font-size="7.55" text-anchor="middle">Time (min)</text>
<text transform="translate(263.5 269.6) scale(0.937 1)" font-size="10.5" text-anchor="middle" style="stroke-width:0.5px">OGTT, Obese Male</text>
<polyline points="209.0,346.5 223.5875,324.5 238.175,315.25 267.35,334 325.7,345.0" fill="none" stroke="#000" stroke-width="1.15" stroke-dasharray="1.5 2.1"/>
<line x1="209.0" y1="345.0" x2="209.0" y2="348.0" stroke="#000" stroke-width="1.1"/>
<line x1="207.4" y1="345.0" x2="210.6" y2="345.0" stroke="#000" stroke-width="1.0"/>
<line x1="207.4" y1="348.0" x2="210.6" y2="348.0" stroke="#000" stroke-width="1.0"/>
<rect x="207.35" y="344.85" width="3.3" height="3.3" fill="#000"/>
<line x1="223.5875" y1="322.5" x2="223.5875" y2="326.5" stroke="#000" stroke-width="1.1"/>
<line x1="221.9875" y1="322.5" x2="225.1875" y2="322.5" stroke="#000" stroke-width="1.0"/>
<line x1="221.9875" y1="326.5" x2="225.1875" y2="326.5" stroke="#000" stroke-width="1.0"/>
<rect x="221.9375" y="322.85" width="3.3" height="3.3" fill="#000"/>
<line x1="238.175" y1="313.05" x2="238.175" y2="317.45" stroke="#000" stroke-width="1.1"/>
<line x1="236.57500000000002" y1="313.05" x2="239.775" y2="313.05" stroke="#000" stroke-width="1.0"/>
<line x1="236.57500000000002" y1="317.45" x2="239.775" y2="317.45" stroke="#000" stroke-width="1.0"/>
<rect x="236.525" y="313.6" width="3.3" height="3.3" fill="#000"/>
<line x1="267.35" y1="333" x2="267.35" y2="335" stroke="#000" stroke-width="1.1"/>
<line x1="265.75" y1="333" x2="268.95000000000005" y2="333" stroke="#000" stroke-width="1.0"/>
<line x1="265.75" y1="335" x2="268.95000000000005" y2="335" stroke="#000" stroke-width="1.0"/>
<rect x="265.70000000000005" y="332.35" width="3.3" height="3.3" fill="#000"/>
<line x1="325.7" y1="343.5" x2="325.7" y2="346.5" stroke="#000" stroke-width="1.1"/>
<line x1="324.09999999999997" y1="343.5" x2="327.3" y2="343.5" stroke="#000" stroke-width="1.0"/>
<line x1="324.09999999999997" y1="346.5" x2="327.3" y2="346.5" stroke="#000" stroke-width="1.0"/>
<rect x="324.05" y="343.35" width="3.3" height="3.3" fill="#000"/>
<polyline points="209.0,344 223.5875,306.1 238.175,298.9 267.35,322.25 325.7,342.4" fill="none" stroke="#000" stroke-width="1.15"/>
<line x1="209.0" y1="342.5" x2="209.0" y2="345.5" stroke="#000" stroke-width="1.1"/>
<line x1="207.4" y1="342.5" x2="210.6" y2="342.5" stroke="#000" stroke-width="1.0"/>
<line x1="207.4" y1="345.5" x2="210.6" y2="345.5" stroke="#000" stroke-width="1.0"/>
<circle cx="209.0" cy="344" r="1.7" fill="#000"/>
<line x1="223.5875" y1="303.6" x2="223.5875" y2="308.6" stroke="#000" stroke-width="1.1"/>
<line x1="221.9875" y1="303.6" x2="225.1875" y2="303.6" stroke="#000" stroke-width="1.0"/>
<line x1="221.9875" y1="308.6" x2="225.1875" y2="308.6" stroke="#000" stroke-width="1.0"/>
<circle cx="223.5875" cy="306.1" r="1.7" fill="#000"/>
<line x1="238.175" y1="296.9" x2="238.175" y2="300.9" stroke="#000" stroke-width="1.1"/>
<line x1="236.57500000000002" y1="296.9" x2="239.775" y2="296.9" stroke="#000" stroke-width="1.0"/>
<line x1="236.57500000000002" y1="300.9" x2="239.775" y2="300.9" stroke="#000" stroke-width="1.0"/>
<circle cx="238.175" cy="298.9" r="1.7" fill="#000"/>
<line x1="267.35" y1="320.25" x2="267.35" y2="324.25" stroke="#000" stroke-width="1.1"/>
<line x1="265.75" y1="320.25" x2="268.95000000000005" y2="320.25" stroke="#000" stroke-width="1.0"/>
<line x1="265.75" y1="324.25" x2="268.95000000000005" y2="324.25" stroke="#000" stroke-width="1.0"/>
<circle cx="267.35" cy="322.25" r="1.7" fill="#000"/>
<line x1="325.7" y1="341.2" x2="325.7" y2="343.59999999999997" stroke="#000" stroke-width="1.1"/>
<line x1="324.09999999999997" y1="341.2" x2="327.3" y2="341.2" stroke="#000" stroke-width="1.0"/>
<line x1="324.09999999999997" y1="343.59999999999997" x2="327.3" y2="343.59999999999997" stroke="#000" stroke-width="1.0"/>
<circle cx="325.7" cy="342.4" r="1.7" fill="#000"/>
<line x1="284.2" y1="293.3" x2="292.4" y2="293.3" stroke="#000" stroke-width="1.2"/>
<circle cx="288.4" cy="293.3" r="1.7" fill="#000"/>
<text x="296.9" y="295.8" font-size="7.6499999999999995" text-anchor="start">WT</text>
<line x1="284.2" y1="302.2" x2="292.4" y2="302.2" stroke="#000" stroke-width="1.2" stroke-dasharray="1.5 2.1"/>
<rect x="286.75" y="300.55" width="3.3" height="3.3" fill="#000"/>
<text x="296.9" y="304.7" font-size="7.6499999999999995" text-anchor="start">ArcPOMC KO</text>
<text x="182.6" y="326.4" font-size="7.5" text-anchor="middle" transform="rotate(-90 182.6 326.4)">Blood glucose</text>
<text x="192" y="326.1" font-size="7.5" text-anchor="middle" transform="rotate(-90 192 326.1)">(mg/dL)</text>
<g transform="translate(0 0.4)">
<line x1="238.0" y1="403.25" x2="238.0" y2="404.25" stroke="#000" stroke-width="1.3"/>
<line x1="228.25" y1="403.25" x2="247.75" y2="403.25" stroke="#000" stroke-width="1.3"/>
<rect x="218" y="404.25" width="40" height="72.0" fill="#000"/>
<line x1="296.1" y1="421.25" x2="296.1" y2="423.0" stroke="#000" stroke-width="1.3"/>
<line x1="286.35" y1="421.25" x2="305.85" y2="421.25" stroke="#000" stroke-width="1.3"/>
<rect x="276.5" y="422.5" width="39.19999999999997" height="53.75" fill="#fff" stroke="#000" stroke-width="1.4"/>
<text x="298.0" y="420.90000000000003" font-size="13" text-anchor="middle" style="stroke-width:0.85px">***</text>
<line x1="208.1" y1="476.35" x2="328" y2="476.35" stroke="#000" stroke-width="1.4"/>
<line x1="208.7" y1="398.2" x2="208.7" y2="476.25" stroke="#000" stroke-width="1.4"/>
<line x1="206.5" y1="476.25" x2="208.7" y2="476.25" stroke="#000" stroke-width="1.15"/>
<text x="205.6" y="478.14" font-size="5.4" text-anchor="end" style="stroke-width:0.5px">0</text>
<line x1="206.5" y1="460.75" x2="208.7" y2="460.75" stroke="#000" stroke-width="1.15"/>
<text x="205.6" y="462.64" font-size="5.4" text-anchor="end" style="stroke-width:0.5px">10000</text>
<line x1="206.5" y1="445.25" x2="208.7" y2="445.25" stroke="#000" stroke-width="1.15"/>
<text x="205.6" y="447.14" font-size="5.4" text-anchor="end" style="stroke-width:0.5px">20000</text>
<line x1="206.5" y1="429.75" x2="208.7" y2="429.75" stroke="#000" stroke-width="1.15"/>
<text x="205.6" y="431.64" font-size="5.4" text-anchor="end" style="stroke-width:0.5px">30000</text>
<line x1="206.5" y1="414.25" x2="208.7" y2="414.25" stroke="#000" stroke-width="1.15"/>
<text x="205.6" y="416.14" font-size="5.4" text-anchor="end" style="stroke-width:0.5px">40000</text>
<line x1="206.5" y1="398.75" x2="208.7" y2="398.75" stroke="#000" stroke-width="1.15"/>
<text x="205.6" y="400.64" font-size="5.4" text-anchor="end" style="stroke-width:0.5px">50000</text>
<text x="235.8" y="485.1" font-size="7.55" text-anchor="middle">WT</text>
<text x="301.1" y="485.1" font-size="7.55" text-anchor="middle">ArcPOMC KO</text>
<text x="176.9" y="437.7" font-size="7.5" text-anchor="middle" transform="rotate(-90 176.9 437.7)">AUC</text>
<text x="185.6" y="437.7" font-size="7.6" text-anchor="middle" transform="rotate(-90 185.6 437.7)">(mg/dL·min)</text>
</g>
<line x1="386.5" y1="364.85" x2="504.25" y2="364.85" stroke="#000" stroke-width="1.3"/>
<line x1="387.1" y1="286.7" x2="387.1" y2="364.75" stroke="#000" stroke-width="1.4"/>
<line x1="384.90000000000003" y1="364.75" x2="387.1" y2="364.75" stroke="#000" stroke-width="1.15"/>
<text x="384.00000000000006" y="366.7975" font-size="5.85" text-anchor="end" style="stroke-width:0.5px">0</text>
<line x1="384.90000000000003" y1="353.67857142857144" x2="387.1" y2="353.67857142857144" stroke="#000" stroke-width="1.15"/>
<text x="384.00000000000006" y="355.72607142857146" font-size="5.85" text-anchor="end" style="stroke-width:0.5px">100</text>
<line x1="384.90000000000003" y1="342.60714285714283" x2="387.1" y2="342.60714285714283" stroke="#000" stroke-width="1.15"/>
<text x="384.00000000000006" y="344.65464285714285" font-size="5.85" text-anchor="end" style="stroke-width:0.5px">200</text>
<line x1="384.90000000000003" y1="331.5357142857143" x2="387.1" y2="331.5357142857143" stroke="#000" stroke-width="1.15"/>
<text x="384.00000000000006" y="333.5832142857143" font-size="5.85" text-anchor="end" style="stroke-width:0.5px">300</text>
<line x1="384.90000000000003" y1="320.4642857142857" x2="387.1" y2="320.4642857142857" stroke="#000" stroke-width="1.15"/>
<text x="384.00000000000006" y="322.51178571428574" font-size="5.85" text-anchor="end" style="stroke-width:0.5px">400</text>
<line x1="384.90000000000003" y1="309.39285714285717" x2="387.1" y2="309.39285714285717" stroke="#000" stroke-width="1.15"/>
<text x="384.00000000000006" y="311.4403571428572" font-size="5.85" text-anchor="end" style="stroke-width:0.5px">500</text>
<line x1="384.90000000000003" y1="298.32142857142856" x2="387.1" y2="298.32142857142856" stroke="#000" stroke-width="1.15"/>
<text x="384.00000000000006" y="300.36892857142857" font-size="5.85" text-anchor="end" style="stroke-width:0.5px">600</text>
<line x1="384.90000000000003" y1="287.25" x2="387.1" y2="287.25" stroke="#000" stroke-width="1.15"/>
<text x="384.00000000000006" y="289.2975" font-size="5.85" text-anchor="end" style="stroke-width:0.5px">700</text>
<line x1="387.1" y1="364.75" x2="387.1" y2="366.85" stroke="#000" stroke-width="1.1"/>
<text x="387.1" y="373.45" font-size="5.5" text-anchor="middle" style="stroke-width:0.5px">0</text>
<line x1="401.675" y1="364.75" x2="401.675" y2="366.85" stroke="#000" stroke-width="1.1"/>
<text x="401.675" y="373.45" font-size="5.5" text-anchor="middle" style="stroke-width:0.5px">15</text>
<line x1="416.25" y1="364.75" x2="416.25" y2="366.85" stroke="#000" stroke-width="1.1"/>
<text x="416.25" y="373.45" font-size="5.5" text-anchor="middle" style="stroke-width:0.5px">30</text>
<line x1="430.825" y1="364.75" x2="430.825" y2="366.85" stroke="#000" stroke-width="1.1"/>
<text x="430.825" y="373.45" font-size="5.5" text-anchor="middle" style="stroke-width:0.5px">45</text>
<line x1="445.4" y1="364.75" x2="445.4" y2="366.85" stroke="#000" stroke-width="1.1"/>
<text x="445.4" y="373.45" font-size="5.5" text-anchor="middle" style="stroke-width:0.5px">60</text>
<line x1="459.975" y1="364.75" x2="459.975" y2="366.85" stroke="#000" stroke-width="1.1"/>
<text x="459.975" y="373.45" font-size="5.5" text-anchor="middle" style="stroke-width:0.5px">75</text>
<line x1="474.55" y1="364.75" x2="474.55" y2="366.85" stroke="#000" stroke-width="1.1"/>
<text x="474.55" y="373.45" font-size="5.5" text-anchor="middle" style="stroke-width:0.5px">90</text>
<line x1="489.125" y1="364.75" x2="489.125" y2="366.85" stroke="#000" stroke-width="1.1"/>
<text x="489.125" y="373.45" font-size="5.5" text-anchor="middle" style="stroke-width:0.5px">105</text>
<line x1="503.7" y1="364.75" x2="503.7" y2="366.85" stroke="#000" stroke-width="1.1"/>
<text x="503.7" y="373.45" font-size="5.5" text-anchor="middle" style="stroke-width:0.5px">120</text>
<text x="445.8" y="384.0" font-size="7.55" text-anchor="middle">Time (min)</text>
<text transform="translate(436.7 269.6) scale(0.937 1)" font-size="10.5" text-anchor="middle" style="stroke-width:0.5px">OGTT, Obese Female</text>
<polyline points="387.1,345.5 401.675,318.5 416.25,318.5 445.4,336 503.7,342.9" fill="none" stroke="#000" stroke-width="1.15" stroke-dasharray="1.5 2.1"/>
<line x1="387.1" y1="344.0" x2="387.1" y2="347.0" stroke="#000" stroke-width="1.1"/>
<line x1="385.5" y1="344.0" x2="388.70000000000005" y2="344.0" stroke="#000" stroke-width="1.0"/>
<line x1="385.5" y1="347.0" x2="388.70000000000005" y2="347.0" stroke="#000" stroke-width="1.0"/>
<rect x="385.45000000000005" y="343.85" width="3.3" height="3.3" fill="#000"/>
<line x1="401.675" y1="317.0" x2="401.675" y2="320.0" stroke="#000" stroke-width="1.1"/>
<line x1="400.075" y1="317.0" x2="403.27500000000003" y2="317.0" stroke="#000" stroke-width="1.0"/>
<line x1="400.075" y1="320.0" x2="403.27500000000003" y2="320.0" stroke="#000" stroke-width="1.0"/>
<rect x="400.02500000000003" y="316.85" width="3.3" height="3.3" fill="#000"/>
<line x1="416.25" y1="316.5" x2="416.25" y2="320.5" stroke="#000" stroke-width="1.1"/>
<line x1="414.65" y1="316.5" x2="417.85" y2="316.5" stroke="#000" stroke-width="1.0"/>
<line x1="414.65" y1="320.5" x2="417.85" y2="320.5" stroke="#000" stroke-width="1.0"/>
<rect x="414.6" y="316.85" width="3.3" height="3.3" fill="#000"/>
<line x1="445.4" y1="334.2" x2="445.4" y2="337.8" stroke="#000" stroke-width="1.1"/>
<line x1="443.79999999999995" y1="334.2" x2="447.0" y2="334.2" stroke="#000" stroke-width="1.0"/>
<line x1="443.79999999999995" y1="337.8" x2="447.0" y2="337.8" stroke="#000" stroke-width="1.0"/>
<rect x="443.75" y="334.35" width="3.3" height="3.3" fill="#000"/>
<line x1="503.7" y1="341.7" x2="503.7" y2="344.09999999999997" stroke="#000" stroke-width="1.1"/>
<line x1="502.09999999999997" y1="341.7" x2="505.3" y2="341.7" stroke="#000" stroke-width="1.0"/>
<line x1="502.09999999999997" y1="344.09999999999997" x2="505.3" y2="344.09999999999997" stroke="#000" stroke-width="1.0"/>
<rect x="502.05" y="341.25" width="3.3" height="3.3" fill="#000"/>
<polyline points="387.1,344.75 401.675,310.75 416.25,309.5 445.4,327.75 503.7,342" fill="none" stroke="#000" stroke-width="1.15"/>
<line x1="387.1" y1="343.25" x2="387.1" y2="346.25" stroke="#000" stroke-width="1.1"/>
<line x1="385.5" y1="343.25" x2="388.70000000000005" y2="343.25" stroke="#000" stroke-width="1.0"/>
<line x1="385.5" y1="346.25" x2="388.70000000000005" y2="346.25" stroke="#000" stroke-width="1.0"/>
<circle cx="387.1" cy="344.75" r="1.7" fill="#000"/>
<line x1="401.675" y1="309.95" x2="401.675" y2="311.55" stroke="#000" stroke-width="1.1"/>
<line x1="400.075" y1="309.95" x2="403.27500000000003" y2="309.95" stroke="#000" stroke-width="1.0"/>
<line x1="400.075" y1="311.55" x2="403.27500000000003" y2="311.55" stroke="#000" stroke-width="1.0"/>
<circle cx="401.675" cy="310.75" r="1.7" fill="#000"/>
<line x1="416.25" y1="307.3" x2="416.25" y2="311.7" stroke="#000" stroke-width="1.1"/>
<line x1="414.65" y1="307.3" x2="417.85" y2="307.3" stroke="#000" stroke-width="1.0"/>
<line x1="414.65" y1="311.7" x2="417.85" y2="311.7" stroke="#000" stroke-width="1.0"/>
<circle cx="416.25" cy="309.5" r="1.7" fill="#000"/>
<line x1="445.4" y1="326.95" x2="445.4" y2="328.55" stroke="#000" stroke-width="1.1"/>
<line x1="443.79999999999995" y1="326.95" x2="447.0" y2="326.95" stroke="#000" stroke-width="1.0"/>
<line x1="443.79999999999995" y1="328.55" x2="447.0" y2="328.55" stroke="#000" stroke-width="1.0"/>
<circle cx="445.4" cy="327.75" r="1.7" fill="#000"/>
<line x1="503.7" y1="341.2" x2="503.7" y2="342.8" stroke="#000" stroke-width="1.1"/>
<line x1="502.09999999999997" y1="341.2" x2="505.3" y2="341.2" stroke="#000" stroke-width="1.0"/>
<line x1="502.09999999999997" y1="342.8" x2="505.3" y2="342.8" stroke="#000" stroke-width="1.0"/>
<circle cx="503.7" cy="342" r="1.7" fill="#000"/>
<line x1="458.6" y1="300.3" x2="466.8" y2="300.3" stroke="#000" stroke-width="1.2"/>
<circle cx="462.8" cy="300.3" r="1.7" fill="#000"/>
<text x="471.9" y="302.8" font-size="7.6499999999999995" text-anchor="start">WT</text>
<line x1="458.7" y1="308.8" x2="466.9" y2="308.8" stroke="#000" stroke-width="1.2" stroke-dasharray="1.5 2.1"/>
<rect x="461.25" y="307.15000000000003" width="3.3" height="3.3" fill="#000"/>
<text x="471.9" y="311.3" font-size="7.6499999999999995" text-anchor="start">ArcPOMC KO</text>
<text x="360.1" y="326.4" font-size="7.5" text-anchor="middle" transform="rotate(-90 360.1 326.4)">Blood glucose</text>
<text x="369.1" y="326.1" font-size="7.5" text-anchor="middle" transform="rotate(-90 369.1 326.1)">(mg/dL)</text>
<g transform="translate(0 0.4)">
<line x1="416.25" y1="411.25" x2="416.25" y2="412" stroke="#000" stroke-width="1.3"/>
<line x1="406.5" y1="411.25" x2="426.0" y2="411.25" stroke="#000" stroke-width="1.3"/>
<rect x="396.25" y="412" width="40.0" height="64.25" fill="#000"/>
<line x1="474.5" y1="420.8" x2="474.5" y2="423.5" stroke="#000" stroke-width="1.3"/>
<line x1="464.75" y1="420.8" x2="484.25" y2="420.8" stroke="#000" stroke-width="1.3"/>
<rect x="454.7" y="423" width="39.6" height="53.25" fill="#fff" stroke="#000" stroke-width="1.4"/>
<text x="473.9" y="420.0" font-size="13" text-anchor="middle" style="stroke-width:0.85px">***</text>
<line x1="385.65" y1="476.35" x2="504.3" y2="476.35" stroke="#000" stroke-width="1.4"/>
<line x1="386.25" y1="398.2" x2="386.25" y2="476.25" stroke="#000" stroke-width="1.4"/>
<line x1="384.05" y1="476.25" x2="386.25" y2="476.25" stroke="#000" stroke-width="1.15"/>
<text x="383.15000000000003" y="478.14" font-size="5.4" text-anchor="end" style="stroke-width:0.5px">0</text>
<line x1="384.05" y1="460.75" x2="386.25" y2="460.75" stroke="#000" stroke-width="1.15"/>
<text x="383.15000000000003" y="462.64" font-size="5.4" text-anchor="end" style="stroke-width:0.5px">10000</text>
<line x1="384.05" y1="445.25" x2="386.25" y2="445.25" stroke="#000" stroke-width="1.15"/>
<text x="383.15000000000003" y="447.14" font-size="5.4" text-anchor="end" style="stroke-width:0.5px">20000</text>
<line x1="384.05" y1="429.75" x2="386.25" y2="429.75" stroke="#000" stroke-width="1.15"/>
<text x="383.15000000000003" y="431.64" font-size="5.4" text-anchor="end" style="stroke-width:0.5px">30000</text>
<line x1="384.05" y1="414.25" x2="386.25" y2="414.25" stroke="#000" stroke-width="1.15"/>
<text x="383.15000000000003" y="416.14" font-size="5.4" text-anchor="end" style="stroke-width:0.5px">40000</text>
<line x1="384.05" y1="398.75" x2="386.25" y2="398.75" stroke="#000" stroke-width="1.15"/>
<text x="383.15000000000003" y="400.64" font-size="5.4" text-anchor="end" style="stroke-width:0.5px">50000</text>
<text x="414.6" y="485.1" font-size="7.55" text-anchor="middle">WT</text>
<text x="478.4" y="485.1" font-size="7.55" text-anchor="middle">ArcPOMC KO</text>
<text x="354.9" y="437.7" font-size="7.5" text-anchor="middle" transform="rotate(-90 354.9 437.7)">AUC</text>
<text x="364.2" y="437.7" font-size="7.6" text-anchor="middle" transform="rotate(-90 364.2 437.7)">(mg/dL·min)</text>
</g>
</g>
</svg>
</body></html>
